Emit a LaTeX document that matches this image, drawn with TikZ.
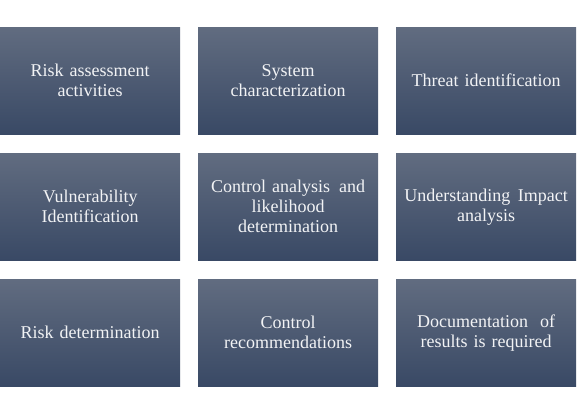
\documentclass[tikz,border=0pt]{standalone}
\usepackage{fontspec}
\setmainfont{Liberation Serif}
\usetikzlibrary{matrix}

\definecolor{boxtop}{HTML}{616C80}
\definecolor{boxbottom}{HTML}{394965}
\definecolor{boxtext}{HTML}{F2F3F5}

\begin{document}
\begin{tikzpicture}[x=1pt,y=1pt]
            \useasboundingbox (0,0) rectangle (585,-414);
            \matrix [%
            matrix of nodes,
            column sep=18pt,
            row sep=19pt,
            inner sep=0pt,
            anchor=north west,
            nodes={%
                anchor=center,
                minimum width=180pt,
                minimum height=107pt,
                text width=174pt,
                inner sep=0pt,
                align=center,
                top color=boxtop,
                bottom color=boxbottom,
                text=boxtext,
                font=\fontsize{18}{20}\selectfont}
            ] (steps) at (0,-27) {%
            {Risk assessment\\activities} & {System\\characterization} & {Threat identification} \\
            {Vulnerability\\Identification} & {Control analysis\hspace{3pt} and\\likelihood\\determination} & {Understanding\hspace{1.5pt} Impact\\analysis} \\
            {Risk determination} & {Control\\recommendations} & {Documentation~ of\\results is required} \\
            };
        \end{tikzpicture}
\end{document}
